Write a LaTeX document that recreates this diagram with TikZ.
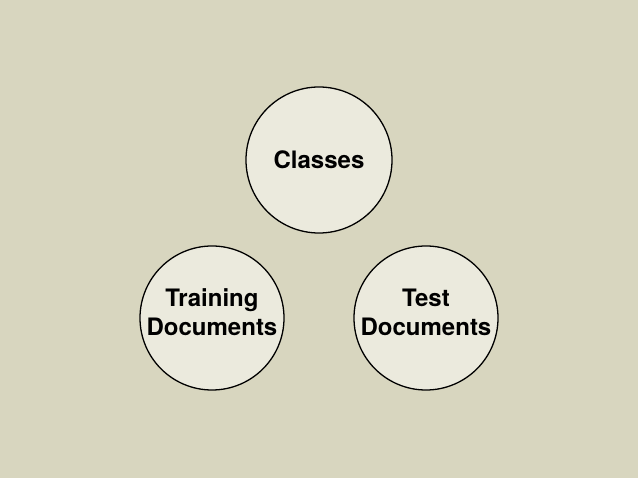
\documentclass[tikz,border=0pt]{standalone}
\usepackage{fontspec}
\setsansfont{TeX Gyre Heros}
\usepackage{tikz}
\usetikzlibrary{positioning}
\definecolor{paper}{RGB}{216, 214, 191}
\definecolor{disc}{RGB}{235, 234, 221}

\tikzset{setbox/.style={circle, draw=black, line width=1.3pt, fill=disc, align=center, inner sep=0pt, font=\sffamily\bfseries\fontsize{24}{29}\selectfont},
  setlabel/.style={align=center, inner sep=0pt, yshift=6pt, font=\sffamily\bfseries\fontsize{24}{29}\selectfont}}

\begin{document}
\begin{tikzpicture}[x=1pt, y=-1pt]
\fill [paper] (0,0) rectangle (638,478);
\useasboundingbox (0,0) rectangle (638,478);
\node [setbox, minimum size=146pt] (classes) at (319,160) {Classes};
\node [setbox, minimum size=144pt, label={[setlabel, name=training-text]center:{Training\\Documents}}] (training) at (212,318) {};
\node [setbox, minimum size=144pt, label={[setlabel, name=test-text]center:{Test\\Documents}}] (test) at (426,318) {};
\end{tikzpicture}
\end{document}
